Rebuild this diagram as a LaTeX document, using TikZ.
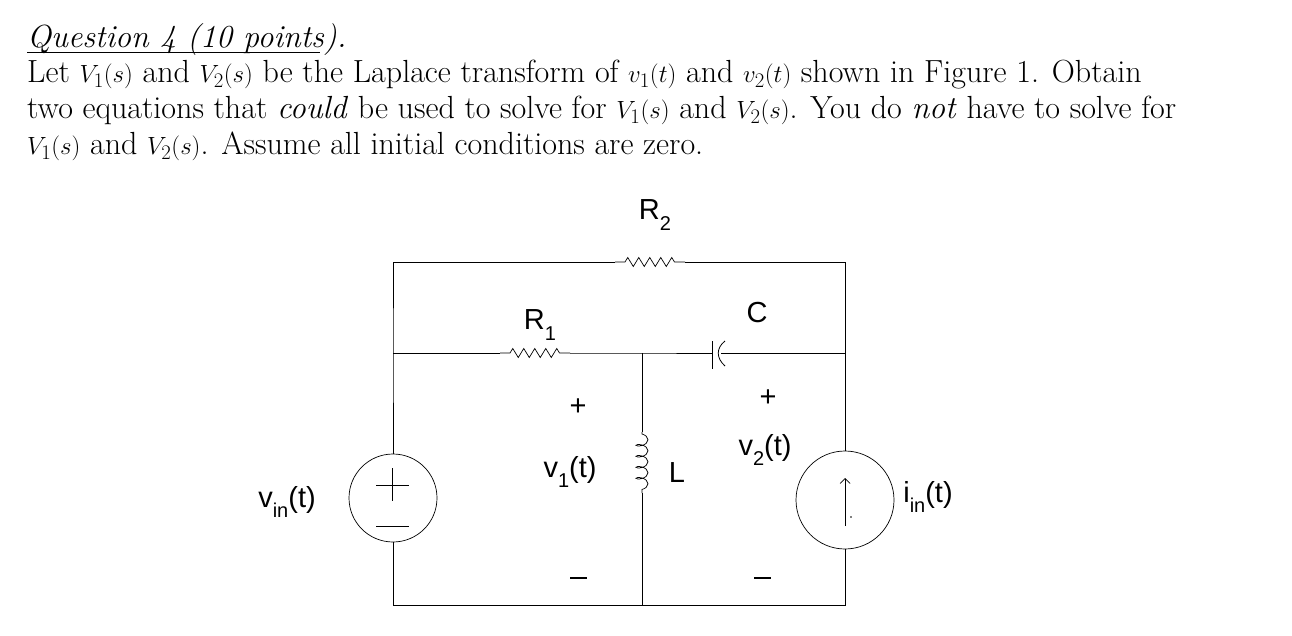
\documentclass[tikz,border=0pt]{standalone}
\usepackage{fontspec}
\newfontfamily\arial{Liberation Sans}
\usetikzlibrary{decorations.pathmorphing,arrows.meta}
\newcommand\lsub[1]{\raisebox{-0.35em}{\fontsize{20}{20}\selectfont #1}}
\begin{document}
\begin{tikzpicture}[x=1pt,y=-1pt,
  txt/.style={anchor=base west,inner sep=0,font=\fontsize{32}{36}\selectfont},
  lbl/.style={inner sep=0,font=\arial\fontsize{29}{32}\selectfont},
  wire/.style={line width=0.9pt},
  res/.style={decorate,decoration={zigzag,amplitude=4.5pt,segment length=11pt,pre length=10pt,post length=10pt}}]
\useasboundingbox (0,0) rectangle (1292,636);
% text
\node[txt] (q) at (27,48) {\itshape Question 4 (10 points).};
\draw[line width=0.8pt] (q.base west)++(0,4) -- ++(293,0);
\node[txt] (l1) at (27,83) {Let $V_1(s)$ and $V_2(s)$ be the Laplace transform of $v_1(t)$ and $v_2(t)$ shown in Figure 1. Obtain};
\node[txt] (l2) at (27,119) {two equations that \emph{could} be used to solve for $V_1(s)$ and $V_2(s)$. You do \emph{not} have to solve for};
\node[txt] (l3) at (27,155) {$V_1(s)$ and $V_2(s)$. Assume all initial conditions are zero.};
% coordinates
\coordinate (tl) at (393,262); \coordinate (tr) at (845,262);
\coordinate (ml) at (393,353); \coordinate (mr) at (845,353);
\coordinate (bl) at (393,605); \coordinate (br) at (845,605);
\coordinate (mm) at (642,353); \coordinate (bm) at (642,605);
\coordinate (r2a) at (615,262); \coordinate (r2b) at (685,262);
\coordinate (r1a) at (500,353); \coordinate (r1b) at (570,353);
\coordinate (ca) at (712,353); \coordinate (cb) at (719,353);
\coordinate (la) at (642,432); \coordinate (lb) at (642,493);
\node[circle,draw,line width=0.7pt,minimum size=88pt,inner sep=0] (vs) at (393,498) {};
\node[circle,draw,line width=0.7pt,minimum size=98pt,inner sep=0] (is) at (845,500) {};
% wires
\draw[wire] (r2a) -- (tl) -- (ml) -- (vs.north);
\draw[wire] (vs.south) -- (bl) -- (br) -- (is.south);
\draw[wire] (is.north) -- (mr) -- (tr) -- (r2b);
\draw[wire] (ml) -- (r1a); \draw[wire] (r1b) -- (mm) -- (ca);
\draw[wire] (cb) ++(2,0) -- (mr);
\draw[wire] (mm) -- (la); \draw[wire] (lb) -- (bm);
\draw[line width=0.7pt,res] (r2a) -- (r2b);
\draw[line width=0.7pt,res] (r1a) -- (r1b);
\draw[line width=0.7pt,decorate,decoration={coil,aspect=0.5,amplitude=6pt,segment length=11pt,pre length=2pt,post length=2pt}] (la) -- (lb);
\draw[line width=0.8pt] (712,341) -- (712,369);
\draw[line width=0.8pt] (725,341) .. controls (716,348) and (716,358) .. (725,366);
% source symbols
\draw[line width=0.7pt] (376,485) -- (409,485) (392,468) -- (392,501) (376,526) -- (409,526);
\draw[line width=0.7pt,-{Straight Barb[length=5pt]}] (845,526) -- (845,478);
\fill (851,517) circle (0.8);
% labels
\node[lbl] (R2) at (655,215) {R\lsub{2}};
\node[lbl] (R1) at (540,325) {R\lsub{1}};
\node[lbl] (C) at (757,313) {C};
\node[lbl] (L) at (677,473) {L};
\node[lbl] (p1) at (578,407) {+};
\node[lbl] (p2) at (768,398) {+};
\node[lbl] (v1) at (570,472) {v\lsub{1}(t)};
\node[lbl] (v2) at (765,450) {v\lsub{2}(t)};
\node[lbl] (vin) at (287,502) {v\lsub{in}(t)};
\node[lbl] (iin) at (928,497) {i\lsub{in}(t)};
\draw[line width=1.6pt] (570,578) -- (587,578) (754,578) -- (771,578);
\end{tikzpicture}
\end{document}
